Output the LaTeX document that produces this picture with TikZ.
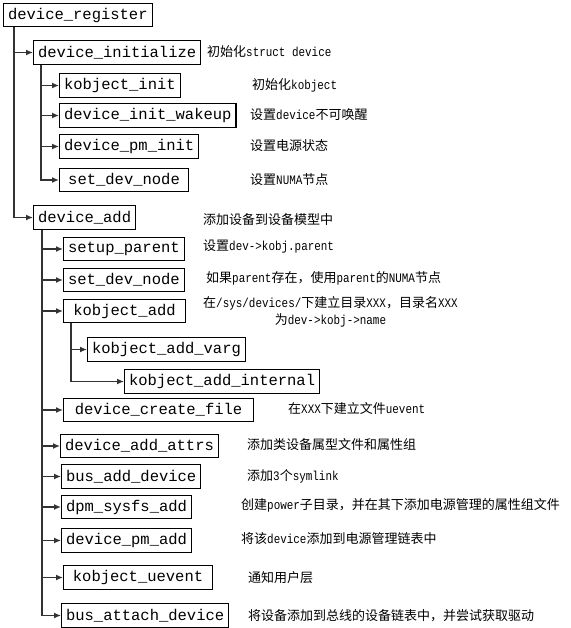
\documentclass[tikz,border=0pt]{standalone}
\usepackage{fontspec}
\setmainfont{Liberation Mono}[FakeStretch=0.84]
\newfontfamily\boxfont{Liberation Mono}
\newfontfamily\cjk{Noto Sans CJK SC}
\usetikzlibrary{arrows.meta}
\newcommand\zh[1]{{\cjk #1}}

\begin{document}
\begin{tikzpicture}[x=1pt,y=-1pt,
fn/.style={draw,line width=1.1pt,anchor=west,inner xsep=4.5pt,inner ysep=0pt,minimum height=23.5pt,font=\boxfont\fontsize{15.5}{18}\selectfont},
note/.style={anchor=west,inner sep=0pt,align=center,font=\fontsize{13}{17}\selectfont},
link/.style={draw=black!80,line width=1.3pt,-{Latex[length=7pt,width=6pt]}}]

\useasboundingbox (0,0) rectangle (570,628);

\node[fn] (dreg) at (3,15) {device\_register};

\node[fn] (dinit) at (33,52.5) {device\_initialize};
\node[fn] (kinit) at (59,85.5) {kobject\_init};
\node[fn] (dwake) at (59,115.5) {device\_init\_wakeup};
\node[fn] (dpminit) at (59,146.5) {device\_pm\_init};
\node[fn,minimum width=129pt] (setnode1) at (59,180) {set\_dev\_node};

\node[fn] (dadd) at (33,217.5) {device\_add};
\node[fn] (setup) at (63,249) {setup\_parent};
\node[fn] (setnode2) at (63,280) {set\_dev\_node};
\node[fn,minimum width=122pt] (kadd) at (63,311) {kobject\_add};
\node[fn] (kvarg) at (87,349.5) {kobject\_add\_varg};
\node[fn] (kint) at (124,381.5) {kobject\_add\_internal};
\node[fn,minimum width=190pt] (dcreate) at (63,410) {device\_create\_file};
\node[fn] (dattrs) at (60,446) {device\_add\_attrs};
\node[fn] (busadd) at (61,476.5) {bus\_add\_device};
\node[fn] (dpmsys) at (61,507) {dpm\_sysfs\_add};
\node[fn] (dpmadd) at (61,540.5) {device\_pm\_add};
\node[fn,minimum width=149pt] (kuevent) at (63,577.5) {kobject\_uevent};
\node[fn] (busattach) at (61,615.5) {bus\_attach\_device};

% notes
\node[note] (n1) at (207,52) {\zh{初始化}struct device};
\node[note] (n2) at (252,85) {\zh{初始化}kobject};
\node[note] (n3) at (250,115) {\zh{设置}device\zh{不可唤醒}};
\node[note] (n4) at (250,146) {\zh{设置电源状态}};
\node[note] (n5) at (250,180) {\zh{设置}NUMA\zh{节点}};
\node[note] (n6) at (203,220) {\zh{添加设备到设备模型中}};
\node[note] (n7) at (203,247) {\zh{设置}dev->kobj.parent};
\node[note] (n8) at (206,278) {\zh{如果}parent\zh{存在，使用}parent\zh{的}NUMA\zh{节点}};
\node[note] (n9) at (203,312) {\zh{在}/sys/devices/\zh{下建立目录}XXX\zh{，目录名}XXX\\\zh{为}dev->kobj->name};
\node[note] (n10) at (288,409) {\zh{在}XXX\zh{下建立文件}uevent};
\node[note] (n11) at (247,445) {\zh{添加类设备属型文件和属性组}};
\node[note] (n12) at (247,476) {\zh{添加}3\zh{个}symlink};
\node[note] (n13) at (241,505) {\zh{创建}power\zh{子目录，并在其下添加电源管理的属性组文件}};
\node[note] (n14) at (241,539) {\zh{将该}device\zh{添加到电源管理链表中}};
\node[note] (n15) at (248,578) {\zh{通知用户层}};
\node[note] (n16) at (248,616) {\zh{将设备添加到总线的设备链表中，并尝试获取驱动}};

\draw[link] ([xshift=11pt]dreg.south west) |- (dinit.west);
\draw[link] ([xshift=11pt]dreg.south west) |- (dadd.west);
\foreach \n in {kinit,dwake,dpminit,setnode1}
  \draw[link] ([xshift=8pt]dinit.south west) |- (\n.west);
\foreach \n in {setup,setnode2,kadd,dcreate,dattrs,busadd,dpmsys,dpmadd,kuevent,busattach}
  \draw[link] ([xshift=9pt]dadd.south west) |- (\n.west);
\foreach \n in {kvarg,kint}
  \draw[link] ([xshift=8pt]kadd.south west) |- (\n.west);
\end{tikzpicture}
\end{document}
